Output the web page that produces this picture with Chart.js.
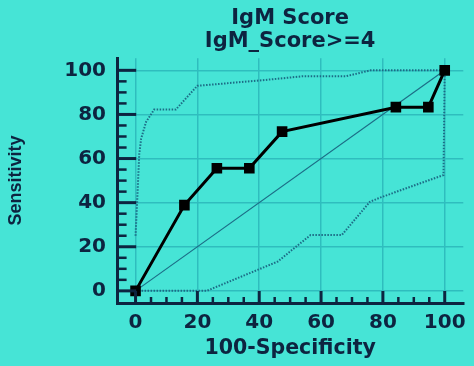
<!DOCTYPE html>
<html><head><meta charset="utf-8">
<script src="https://cdn.jsdelivr.net/npm/chart.js@4/dist/chart.umd.min.js"></script>
<style>html,body{margin:0;padding:0;background:#46E4D6;}canvas{display:block}</style>
</head><body>
<canvas id="c" width="474" height="366"></canvas>
<script>
// ROC curve points (100-Specificity, Sensitivity)
const rocX = [0, 15.8, 26.3, 36.8, 47.4, 84.2, 94.7, 100];
const rocY = [0, 38.9, 55.6, 55.6, 72.2, 83.3, 83.3, 100];
// Upper confidence bound
const upperX = [0, 0.5, 1.2, 1.8, 3.4, 6, 13, 20, 41, 54, 68, 76, 100];
const upperY = [25, 40, 62, 69, 76.6, 82.2, 82.2, 93, 95.5, 97.3, 97.3, 100, 100];
// Lower confidence bound
const lowerX = [0, 23, 46, 51, 56.6, 66.7, 75.8, 79.3, 99.6, 100];
const lowerY = [0, 0, 13.3, 19, 25.3, 25.3, 40.4, 42.4, 52.5, 100];
// Reference diagonal
const diagX = [0, 100];
const diagY = [0, 100];
// Tick labels
const majorTicks = [0, 20, 40, 60, 80, 100];
const minorTicks = [5,10,15,25,30,35,45,50,55,65,70,75,85,90,95];

const BG = '#46E4D6', NAVY = '#0D2440', GRID = '#2FBDBE', CI = '#1C6C86';
const pts = (xs, ys) => xs.map((x, i) => ({x, y: ys[i]}));

const bgPlugin = {
  id: 'bg',
  beforeDraw(chart) { const c = chart.ctx; c.save(); c.fillStyle = BG; c.fillRect(0, 0, chart.width, chart.height); c.restore(); }
};
const titleShift = {
  id: 'titleShift',
  afterLayout(chart) { const t = chart.titleBlock; if (t) { t.left = chart.chartArea.left; t.right = chart.chartArea.right; } }
};
const innerTicks = {
  id: 'innerTicks',
  afterDatasetsDraw(chart) {
    const c = chart.ctx, xs = chart.scales.x, ys = chart.scales.y, a = chart.chartArea;
    c.save(); c.strokeStyle = NAVY; c.lineCap = 'butt';
    const draw = (vals, len, w) => {
      c.lineWidth = w;
      vals.forEach(v => {
        const px = xs.getPixelForValue(v);
        c.beginPath(); c.moveTo(px, a.bottom); c.lineTo(px, a.bottom - len); c.stroke();
        const py = ys.getPixelForValue(v);
        c.beginPath(); c.moveTo(a.left, py); c.lineTo(a.left + len * 1.6, py); c.stroke();
      });
    };
    draw(majorTicks, 12, 3);
    draw(minorTicks, 6, 2.5);
    c.restore();
  }
};

new Chart(document.getElementById('c'), {
  type: 'scatter',
  data: {
    datasets: [
      { data: pts(diagX, diagY), showLine: true, borderColor: CI, borderWidth: 1.2, pointRadius: 0, order: 4 },
      { data: pts(upperX, upperY), showLine: true, borderColor: CI, borderWidth: 2, borderDash: [1.5, 1.5], pointRadius: 0, order: 3 },
      { data: pts(lowerX, lowerY), showLine: true, borderColor: CI, borderWidth: 2, borderDash: [1.5, 1.5], pointRadius: 0, order: 2 },
      { data: pts(rocX, rocY), showLine: true, borderColor: '#000', borderWidth: 3, pointStyle: 'rect', pointRadius: 7.5,
        pointBackgroundColor: '#000', pointBorderColor: '#000', pointBorderWidth: 0, order: 1 }
    ]
  },
  options: {
    responsive: false, animation: false, devicePixelRatio: 1,
    layout: { padding: { left: 0, right: 2, top: 0, bottom: 0 } },
    plugins: {
      legend: { display: false }, tooltip: { enabled: false },
      title: { display: true, text: ['IgM Score', 'IgM_Score>=4'], color: NAVY,
        font: { family: 'DejaVu Sans', size: 21, weight: 'bold', lineHeight: 1.1 }, padding: { top: 7, bottom: 5 } }
    },
    scales: {
      x: {
        type: 'linear', min: -6, max: 106,
        afterBuildTicks: s => { s.ticks = majorTicks.map(v => ({value: v})); },
        afterFit: s => { s.height = 63; },
        grid: { color: GRID, lineWidth: 1.5, drawTicks: false },
        border: { display: true, color: NAVY, width: 3 },
        ticks: { color: NAVY, padding: 8, maxRotation: 0, font: { family: 'DejaVu Sans', size: 20, weight: 'bold' } },
        title: { display: true, text: '100-Specificity', color: NAVY, padding: { top: 0, bottom: 5 },
          font: { family: 'DejaVu Sans', size: 20.5, weight: 'bold' } }
      },
      y: {
        type: 'linear', min: -5.5, max: 105.5,
        afterBuildTicks: s => { s.ticks = majorTicks.map(v => ({value: v})); },
        afterFit: s => { s.width = 117; },
        grid: { color: GRID, lineWidth: 1.5, drawTicks: false },
        border: { display: true, color: NAVY, width: 3 },
        ticks: { color: NAVY, padding: 11, font: { family: 'DejaVu Sans', size: 20, weight: 'bold' } },
        title: { display: true, text: 'Sensitivity', color: NAVY, padding: { top: 5, bottom: 0 },
          font: { family: 'Liberation Sans', size: 18, weight: 'bold' } }
      }
    }
  },
  plugins: [bgPlugin, titleShift, innerTicks]
});
</script>
</body></html>
